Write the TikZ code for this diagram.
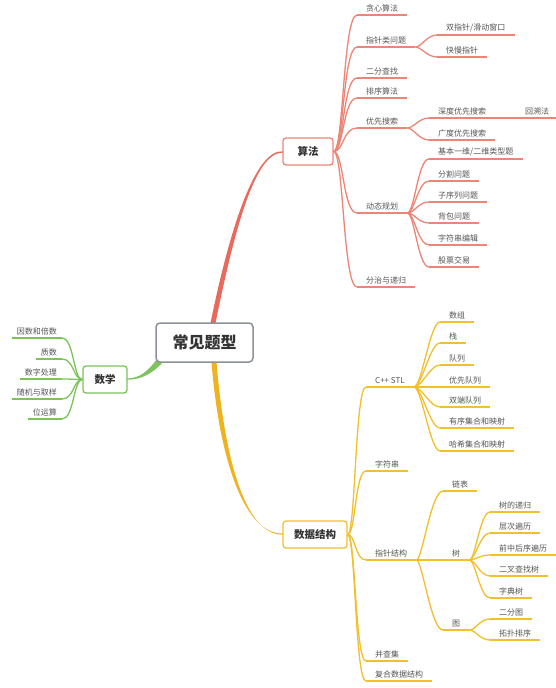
\documentclass[tikz,border=0pt]{standalone}
\usepackage{fontspec}
\setmainfont{Noto Sans CJK SC}
\definecolor{redline}{HTML}{EC8576}
\definecolor{redtrunk}{HTML}{E86A5C}
\definecolor{greenline}{HTML}{7CC35B}
\definecolor{yellowline}{HTML}{F2C02C}
\definecolor{yellowtrunk}{HTML}{EFB320}
\definecolor{rootborder}{HTML}{8C9199}
\definecolor{darktext}{HTML}{333333}
\definecolor{leaftext}{HTML}{555555}
\begin{document}
\begin{tikzpicture}[x=1pt,y=-1pt,
  leaf/.style={font=\fontsize{8}{9.6}\selectfont, text=leaftext, inner xsep=9pt, inner ysep=3pt, anchor=south west},
  mleaf/.style={leaf, anchor=south east, inner xsep=5pt},
  topic/.style={draw, rounded corners=3pt, line width=1.3pt, fill=white, font=\fontsize{10.5}{12}\selectfont\bfseries, text=darktext, minimum height=27pt, inner sep=0pt},
  rl/.style={draw=redline, line width=1.3pt},
  gl/.style={draw=greenline, line width=1.3pt},
  yl/.style={draw=yellowline, line width=1.3pt}]
\useasboundingbox (0,0) rectangle (556,688);
\fill[white] (0,0) rectangle (556,688);

% trunks
\fill[redtrunk] (210.5,323) .. controls (229.5,230) and (255,148.8) .. (283,151.3)
  -- (283,152.7) .. controls (255,151.2) and (234.5,230) .. (215.5,323) -- cycle;
\fill[yellowtrunk] (211.5,362) .. controls (219.5,462) and (245,534.6) .. (283,533.4)
  -- (283,534.6) .. controls (245,535.4) and (224.5,458) .. (216.5,362) -- cycle;
\fill[greenline] (158,358) .. controls (148,371) and (140,378.4) .. (127,378.5)
  -- (127,379.7) .. controls (141,379.6) and (152,374) .. (163,362) -- cycle;

% main nodes
\node[topic, draw=rootborder, line width=1.5pt, rounded corners=4pt, minimum width=97pt, minimum height=39pt, font=\fontsize{16}{18}\selectfont\bfseries] (root) at (204.5,342.5) {常见题型};
\node[topic, draw=redline, minimum width=50pt] (algo) at (308,151.5) {算法};
\node[topic, draw=greenline, minimum width=44pt] (math) at (105,379.5) {数学};
\node[topic, draw=yellowline, minimum width=64pt] (ds) at (315,534.5) {数据结构};

% algorithm leaves
\node[leaf] (a1) at (357,15) {贪心算法};
\node[leaf] (a2) at (357,47) {指针类问题};
\node[leaf] (a3) at (357,78) {二分查找};
\node[leaf] (a4) at (357,98) {排序算法};
\node[leaf] (a5) at (357,128) {优先搜索};
\node[leaf] (a6) at (357,213) {动态规划};
\node[leaf] (a7) at (357,287) {分治与递归};
\node[leaf] (a21) at (437,35) {双指针/滑动窗口};
\node[leaf] (a22) at (437,57) {快慢指针};
\node[leaf] (a51) at (429,118) {深度优先搜索};
\node[leaf] (a511) at (516,118) {回溯法};
\node[leaf] (a52) at (429,140) {广度优先搜索};
\node[leaf] (a61) at (429,159) {基本一维/二维类型题};
\node[leaf] (a62) at (429,181) {分割问题};
\node[leaf] (a63) at (429,202) {子序列问题};
\node[leaf] (a64) at (429,223) {背包问题};
\node[leaf] (a65) at (429,245) {字符串编辑};
\node[leaf] (a66) at (429,267) {股票交易};

\foreach \n in {a1,a2,a3,a4,a5,a6,a7,a21,a22,a51,a511,a52,a61,a62,a63,a64,a65,a66}
  \draw[rl] (\n.south west) -- (\n.south east);
\foreach \n in {a1,a2,a3,a4,a5,a6,a7}
  \draw[rl] (algo.east) .. controls +(10,0) and +(-14,0) .. (\n.south west);
\foreach \n in {a21,a22}
  \draw[rl] (a2.south east) .. controls +(6,0) and +(-10,0) .. (\n.south west);
\foreach \n in {a51,a52}
  \draw[rl] (a5.south east) .. controls +(6,0) and +(-10,0) .. (\n.south west);
\foreach \n in {a61,a62,a63,a64,a65,a66}
  \draw[rl] (a6.south east) .. controls +(7,0) and +(-11,0) .. (\n.south west);
\draw[rl] (a51.south east) -- (a511.south west);

% math leaves
\node[mleaf] (m1) at (62,338) {因数和倍数\hspace{13pt}};
\node[mleaf] (m2) at (62,359) {质数\hspace{13pt}};
\node[mleaf] (m3) at (62,379) {数字处理\hspace{13pt}};
\node[mleaf] (m4) at (62,399) {随机与取样\hspace{13pt}};
\node[mleaf] (m5) at (62,419) {位运算\hspace{13pt}};
\foreach \n in {m1,m2,m3,m4,m5}{
  \draw[gl] (\n.south west) -- (\n.south east);
  \draw[gl] (math.west) .. controls +(-9,0) and +(12,0) .. (\n.south east);
}

% data structure leaves
\node[leaf] (d1) at (366,387) {C++ STL};
\node[leaf] (d2) at (366,471) {字符串};
\node[leaf] (d3) at (366,560) {指针结构};
\node[leaf] (d4) at (366,661) {并查集};
\node[leaf] (d5) at (366,681) {复合数据结构};
\node[leaf] (d11) at (440,322) {数组};
\node[leaf] (d12) at (440,343) {栈};
\node[leaf] (d13) at (440,365) {队列};
\node[leaf] (d14) at (440,387) {优先队列};
\node[leaf] (d15) at (440,407) {双端队列};
\node[leaf] (d16) at (440,428) {有序集合和映射};
\node[leaf] (d17) at (440,451) {哈希集合和映射};
\node[leaf] (d31) at (443,491) {链表};
\node[leaf] (d32) at (443,560) {树};
\node[leaf] (d33) at (443,630) {图};
\node[leaf] (d321) at (490,512) {树的递归};
\node[leaf] (d322) at (490,533) {层次遍历};
\node[leaf] (d323) at (490,555) {前中后序遍历};
\node[leaf] (d324) at (490,576) {二叉查找树};
\node[leaf] (d325) at (490,598) {字典树};
\node[leaf] (d331) at (490,619) {二分图};
\node[leaf] (d332) at (490,640) {拓扑排序};

\foreach \n in {d1,d2,d3,d4,d5,d11,d12,d13,d14,d15,d16,d17,d31,d32,d33,d321,d322,d323,d324,d325,d331,d332}
  \draw[yl] (\n.south west) -- (\n.south east);
\foreach \n in {d1,d2,d3,d4,d5}
  \draw[yl] (ds.east) .. controls +(8,0) and +(-11,0) .. (\n.south west);
\foreach \n in {d11,d12,d13,d14,d15,d16,d17}
  \draw[yl] (d1.south east) .. controls +(8,0) and +(-10,0) .. (\n.south west);
\foreach \n in {d31,d32,d33}
  \draw[yl] (d3.south east) .. controls +(6,0) and +(-12,0) .. (\n.south west);
\foreach \n in {d321,d322,d323,d324,d325}
  \draw[yl] (d32.south east) .. controls +(6,0) and +(-10,0) .. (\n.south west);
\foreach \n in {d331,d332}
  \draw[yl] (d33.south east) .. controls +(6,0) and +(-10,0) .. (\n.south west);
\end{tikzpicture}
\end{document}
